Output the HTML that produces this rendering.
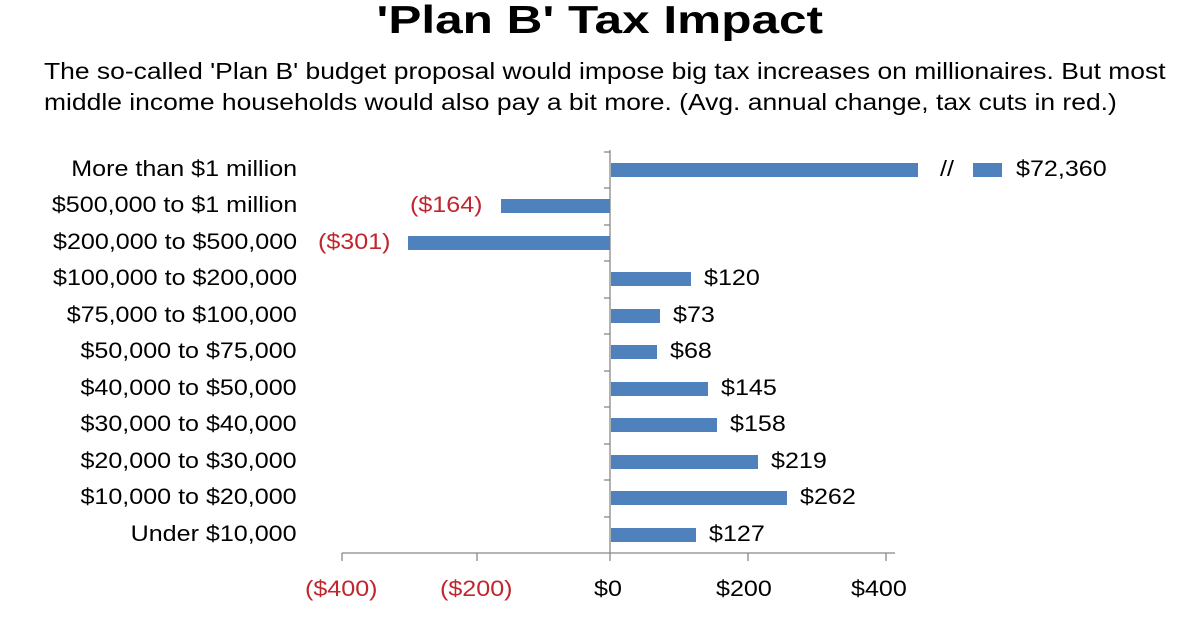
<!DOCTYPE html><html><head><style>
body{margin:0;width:1200px;height:630px;background:#fff;font-family:"Liberation Sans",sans-serif;position:relative;overflow:hidden}
.t{position:absolute;white-space:nowrap}
.l{position:absolute;right:903px;font-size:22px;color:#000;white-space:nowrap;transform:scaleX(1.14);transform-origin:right center}
.b{position:absolute;height:14px;background:#4f81bd}
.v{position:absolute;font-size:22px;white-space:nowrap;transform:scaleX(1.14);transform-origin:left center}
.r{color:#c0262d}
</style></head><body>
<div class="t" style="left:0;width:1200px;text-align:center;top:-1px;font-size:39px;font-weight:bold"><span style="display:inline-block;transform:scaleX(1.27)">'Plan B' Tax Impact</span></div>
<div class="t" style="left:44px;top:56px;font-size:23px;line-height:31px;transform:scaleX(1.15);transform-origin:left top">The so-called 'Plan B' budget proposal would impose big tax increases on millionaires. But most<br>middle income households would also pay a bit more. (Avg. annual change, tax cuts in red.)</div>
<svg style="position:absolute;left:0;top:0" width="1200" height="630">
<g stroke="#888" stroke-width="1.3">
<line x1="610" y1="150" x2="610" y2="553"/>
<line x1="342" y1="553" x2="895" y2="553"/>
<line x1="342" y1="553" x2="342" y2="561"/><line x1="477" y1="553" x2="477" y2="561"/><line x1="610" y1="553" x2="610" y2="561"/><line x1="748" y1="553" x2="748" y2="561"/><line x1="886" y1="553" x2="886" y2="561"/>
<line x1="604" y1="152" x2="610" y2="152"/><line x1="604" y1="188" x2="610" y2="188"/><line x1="604" y1="225" x2="610" y2="225"/><line x1="604" y1="261" x2="610" y2="261"/><line x1="604" y1="298" x2="610" y2="298"/><line x1="604" y1="334" x2="610" y2="334"/><line x1="604" y1="371" x2="610" y2="371"/><line x1="604" y1="407" x2="610" y2="407"/><line x1="604" y1="444" x2="610" y2="444"/><line x1="604" y1="480" x2="610" y2="480"/><line x1="604" y1="517" x2="610" y2="517"/>
</g></svg>
<div class="l" style="top:156px">More than $1 million</div>
<div class="l" style="top:192px">$500,000 to $1 million</div>
<div class="l" style="top:229px">$200,000 to $500,000</div>
<div class="l" style="top:265px">$100,000 to $200,000</div>
<div class="l" style="top:302px">$75,000 to $100,000</div>
<div class="l" style="top:338px">$50,000 to $75,000</div>
<div class="l" style="top:375px">$40,000 to $50,000</div>
<div class="l" style="top:411px">$30,000 to $40,000</div>
<div class="l" style="top:448px">$20,000 to $30,000</div>
<div class="l" style="top:484px">$10,000 to $20,000</div>
<div class="l" style="top:521px">Under $10,000</div>
<div class="b" style="left:611px;width:307px;top:163px"></div>
<div class="b" style="left:973px;width:29px;top:163px"></div>
<div class="v" style="left:940px;top:156px">//</div>
<div class="v" style="left:1016px;top:156px">$72,360</div>
<div class="b" style="left:501px;width:109px;top:199px"></div>
<div class="v r" style="left:410px;top:192px">($164)</div>
<div class="b" style="left:408px;width:202px;top:236px"></div>
<div class="v r" style="left:318px;top:229px">($301)</div>
<div class="b" style="left:611px;width:80px;top:272px"></div><div class="v" style="left:704px;top:265px">$120</div>
<div class="b" style="left:611px;width:49px;top:309px"></div><div class="v" style="left:673px;top:302px">$73</div>
<div class="b" style="left:611px;width:46px;top:345px"></div><div class="v" style="left:670px;top:338px">$68</div>
<div class="b" style="left:611px;width:97px;top:382px"></div><div class="v" style="left:721px;top:375px">$145</div>
<div class="b" style="left:611px;width:106px;top:418px"></div><div class="v" style="left:730px;top:411px">$158</div>
<div class="b" style="left:611px;width:147px;top:455px"></div><div class="v" style="left:771px;top:448px">$219</div>
<div class="b" style="left:611px;width:176px;top:491px"></div><div class="v" style="left:800px;top:484px">$262</div>
<div class="b" style="left:611px;width:85px;top:528px"></div><div class="v" style="left:709px;top:521px">$127</div>
<div class="v r" style="left:305px;top:576px">($400)</div>
<div class="v r" style="left:440px;top:576px">($200)</div>
<div class="v" style="left:594px;top:576px">$0</div>
<div class="v" style="left:716px;top:576px">$200</div>
<div class="v" style="left:851px;top:576px">$400</div>
</body></html>
